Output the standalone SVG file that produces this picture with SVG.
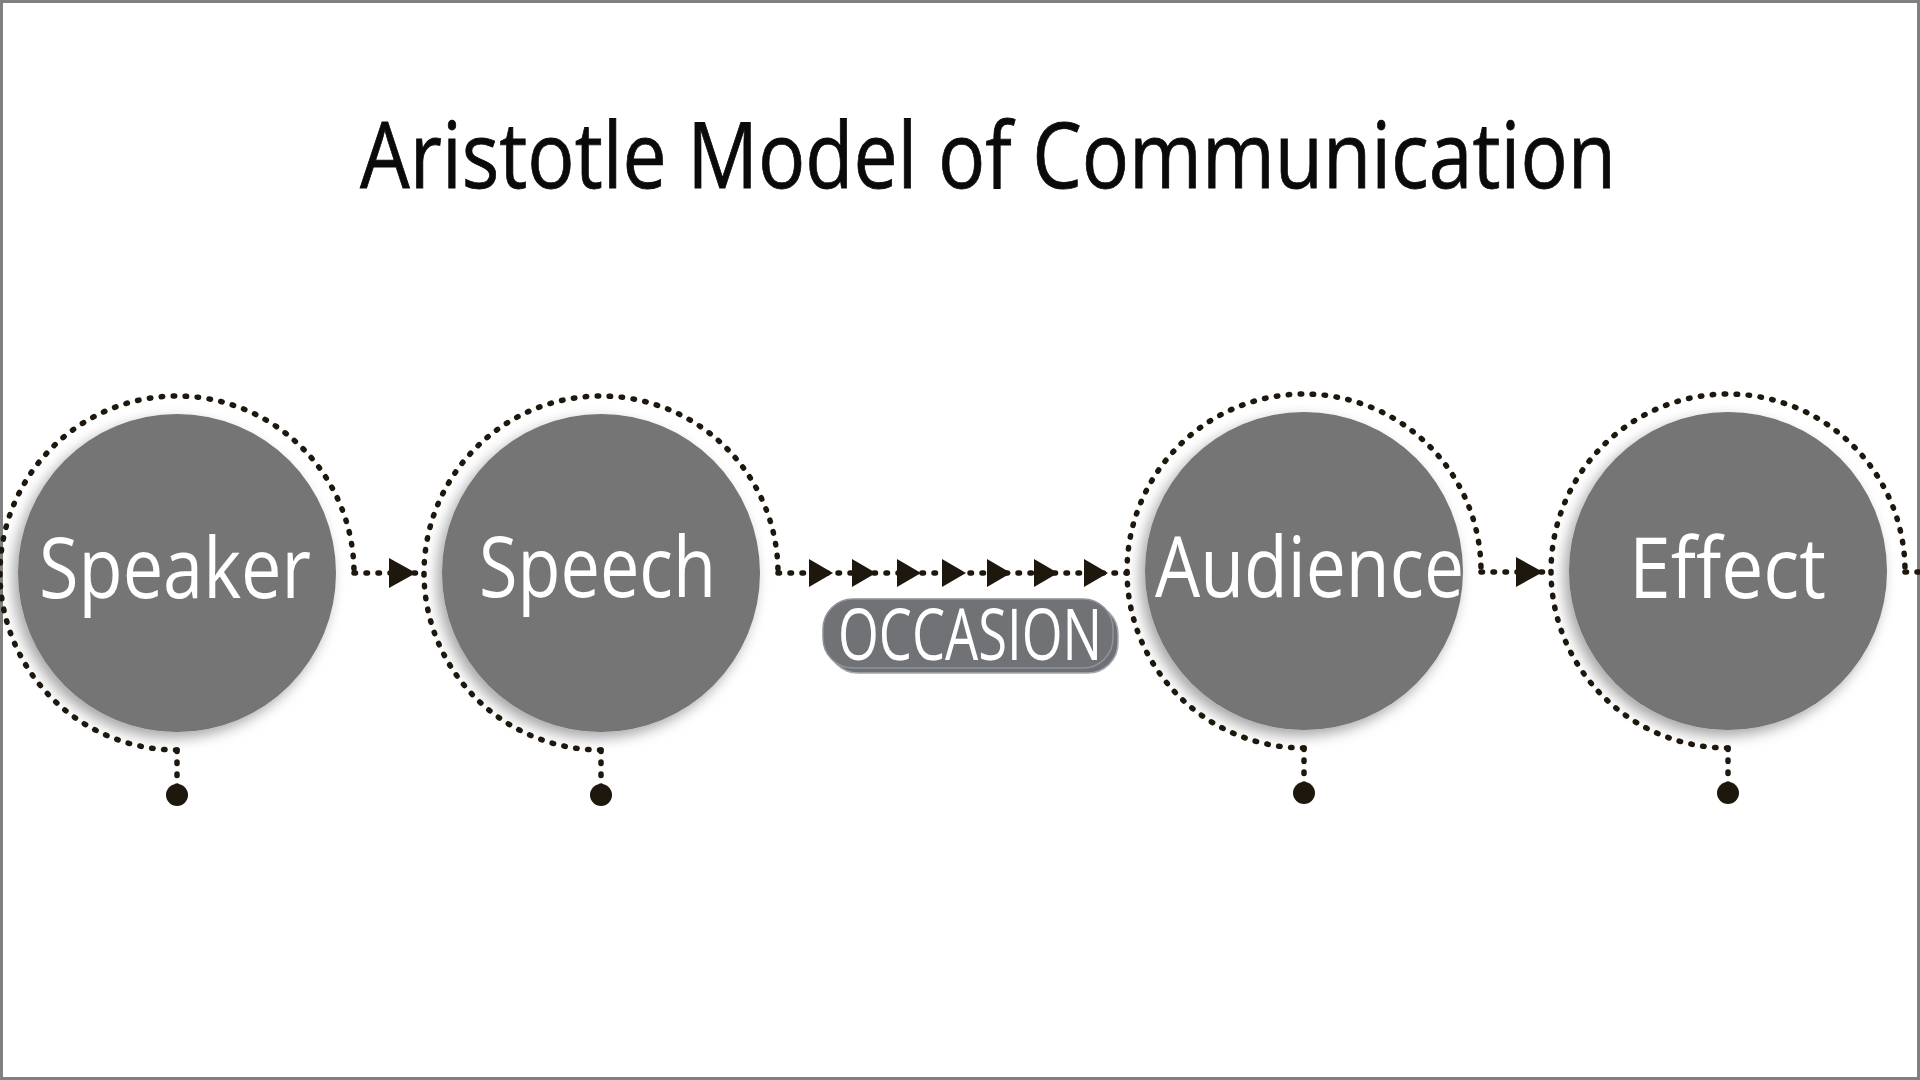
<svg xmlns="http://www.w3.org/2000/svg" width="1920" height="1080" viewBox="0 0 1920 1080">
  <defs>
    <filter id="shadow" x="-20%" y="-20%" width="140%" height="140%">
      <feDropShadow dx="-5" dy="6" stdDeviation="7" flood-color="#000" flood-opacity="0.35"/>
    </filter>
  </defs>
  <style>
    .bg { fill: #ffffff; }
    .frame { fill: none; stroke: #808080; stroke-width: 3; }
    .title { font-family: "Open Sans", "Noto Sans", sans-serif; font-size: 92px; font-weight: 500; fill: #0a0a0a; stroke: #0a0a0a; stroke-width: 0.8; }
    .disc { fill: #757575; filter: url(#shadow); }
    .label { font-family: "Open Sans", "Noto Sans", sans-serif; font-size: 84px; fill: #ffffff; }
    .dots { fill: none; stroke: #1e170d; stroke-width: 5.5; stroke-linecap: round; stroke-dasharray: 1.5 10.5; }
    .end { fill: #1e170d; }
    .head { fill: #1e170d; }
    .pill-back { fill: #6d7176; stroke: #a4a9ae; stroke-width: 1.5; }
    .pill { fill: #717275; stroke: #8f949a; stroke-width: 1.5; }
    .occ { font-family: "Open Sans", "Noto Sans", sans-serif; font-size: 72px; fill: #ffffff; }
  </style>

  <rect class="bg" x="0" y="0" width="1920" height="1080"/>
  <rect class="frame" x="1.5" y="1.5" width="1917" height="1077"/>

  <text class="title" x="360" y="188" textLength="1256" lengthAdjust="spacingAndGlyphs">Aristotle Model of Communication</text>

  <g id="connectors">
    <path class="dots" d="M354,573 H424"/>
    <polygon class="head" points="389,558 416,573 389,588"/>
    <path class="dots" d="M778,573 H1127"/>
    <polygon class="head" points="809,559 833,573 809,587"/>
    <polygon class="head" points="852,559 876,573 852,587"/>
    <polygon class="head" points="897,559 921,573 897,587"/>
    <polygon class="head" points="942,559 966,573 942,587"/>
    <polygon class="head" points="987,559 1011,573 987,587"/>
    <polygon class="head" points="1034,559 1058,573 1034,587"/>
    <polygon class="head" points="1084,559 1108,573 1084,587"/>
    <path class="dots" d="M1481,572 H1550"/>
    <polygon class="head" points="1516,557 1543,572 1516,587"/>
    <path class="dots" d="M1905,572 H1920"/>
  </g>

  <g id="occasion">
    <rect class="pill-back" x="828" y="604" width="290" height="69" rx="30"/>
    <rect class="pill" x="823" y="599" width="290" height="69" rx="30"/>
    <text class="occ" x="838" y="660" textLength="264" lengthAdjust="spacingAndGlyphs">OCCASION</text>
  </g>

  <g id="speaker">
    <circle class="disc" cx="177" cy="573" r="159"/>
    <path class="dots" d="M177,750 A177,177 0 1 1 354,573"/>
    <path class="dots" d="M177,750 V790"/>
    <circle class="end" cx="177" cy="795" r="11"/>
    <text class="label" x="39" y="598" textLength="272" lengthAdjust="spacingAndGlyphs">Speaker</text>
  </g>

  <g id="speech">
    <circle class="disc" cx="601" cy="573" r="159"/>
    <path class="dots" d="M601,750 A177,177 0 1 1 778,573"/>
    <path class="dots" d="M601,750 V790"/>
    <circle class="end" cx="601" cy="795" r="11"/>
    <text class="label" x="479" y="597" textLength="237" lengthAdjust="spacingAndGlyphs">Speech</text>
  </g>

  <g id="audience">
    <circle class="disc" cx="1304" cy="571" r="159"/>
    <path class="dots" d="M1304,748 A177,177 0 1 1 1481,572"/>
    <path class="dots" d="M1304,748 V788"/>
    <circle class="end" cx="1304" cy="793" r="11"/>
    <text class="label" x="1155" y="597" textLength="309" lengthAdjust="spacingAndGlyphs">Audience</text>
  </g>

  <g id="effect">
    <circle class="disc" cx="1728" cy="571" r="159"/>
    <path class="dots" d="M1728,748 A177,177 0 1 1 1905,572"/>
    <path class="dots" d="M1728,748 V788"/>
    <circle class="end" cx="1728" cy="793" r="11"/>
    <text class="label" x="1629" y="598" textLength="197" lengthAdjust="spacingAndGlyphs">Effect</text>
  </g>
</svg>
